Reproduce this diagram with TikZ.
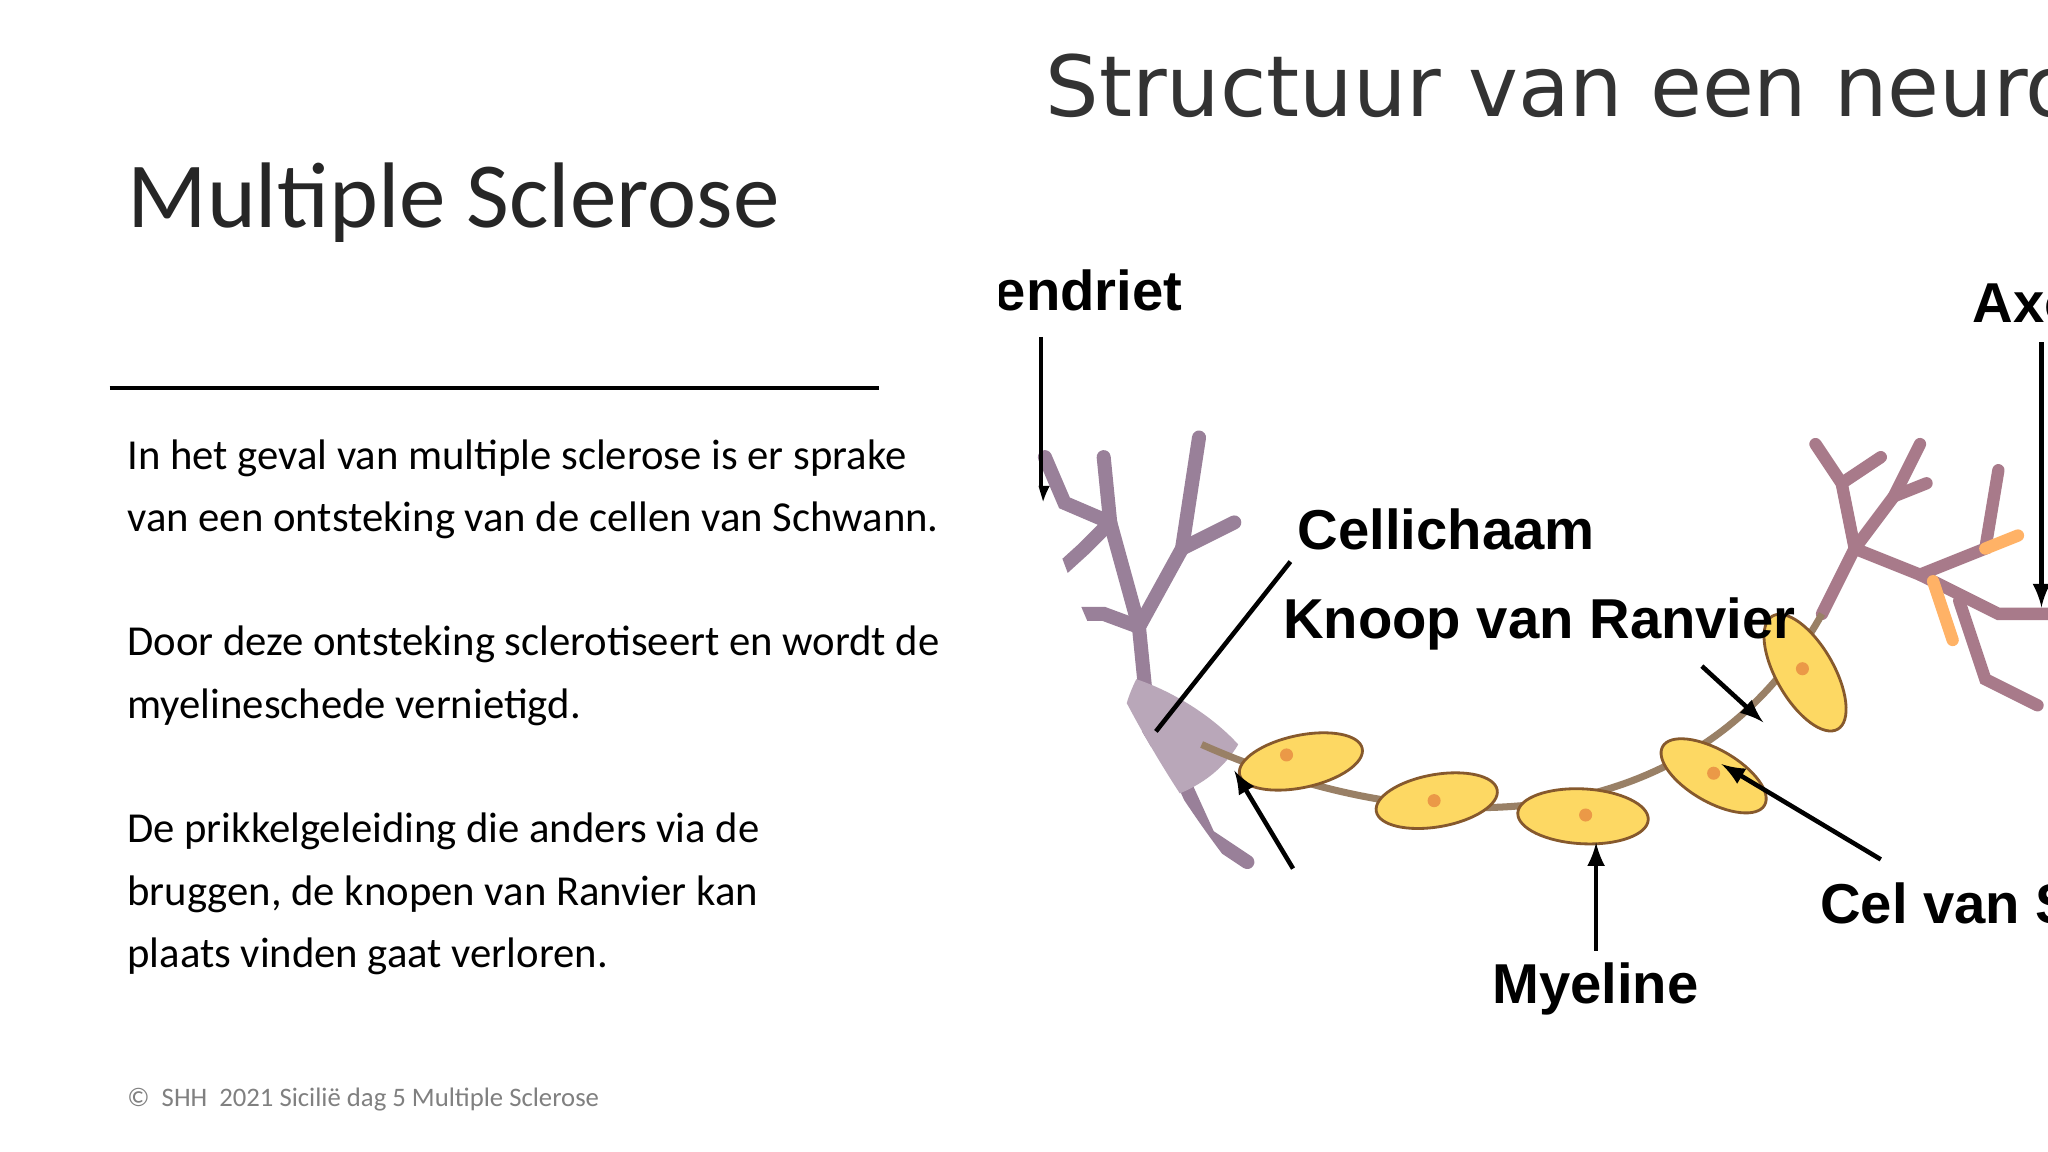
\documentclass[tikz,border=0pt]{standalone}
\usepackage{fontspec}
\setmainfont{Carlito}
\newfontfamily\lab{Liberation Sans}
\newfontfamily\labl{DejaVu Sans}
\begin{document}
\begin{tikzpicture}[x=0.01306cm,y=-0.01306cm,
  body/.style={anchor=north west,font=\fontsize{12.15pt}{17.8pt}\selectfont,align=left,inner sep=0},
  lbl/.style={anchor=west,font=\lab\bfseries\fontsize{16pt}{18pt}\selectfont,inner sep=0},
  ptr/.style={line width=1.3pt,-latex},
  sheath/.style={fill=yellow!55!orange!60,draw=brown!70!black,line width=0.8pt},
  dend/.style={draw=violet!25!gray!80,line width=4pt,line cap=round},
  term/.style={draw=purple!30!gray!80,line width=3.5pt,line cap=round}]
\useasboundingbox (0,0) rectangle (1568,882);
\fill[white] (0,0) rectangle (1568,882);
\node[anchor=west,inner sep=0,font=\fontsize{26.5pt}{30pt}\selectfont,text=black!85] (title) at (97,155) {Multiple Sclerose};
\draw[line width=1.3pt] (84,297) coordinate (r1) -- (673,297) coordinate (r2);
\node[body] (p1) at (97,336) {In het geval van multiple sclerose is er sprake\\van een ontsteking van de cellen van Schwann.};
\node[body] (p2) at (97,479) {Door deze ontsteking sclerotiseert en wordt de\\myelineschede vernietigd.};
\node[body] (p3) at (97,622) {De prikkelgeleiding die anders via de\\bruggen, de knopen van Ranvier kan\\plaats vinden gaat verloren.};
\node[anchor=west,inner sep=0,text=gray,font=\fontsize{7.6pt}{9pt}\selectfont] (foot) at (97,842) {\copyright\ \ SHH\ \ 2021 Sicilië dag 5 Multiple Sclerose};
\begin{scope}
\clip (765,0) -- (1568,0) -- (1568,882) -- (1000,882) -- (950,672) .. controls (860,560) and (800,420) .. (778,300) -- (765,300) -- cycle;
\node[anchor=west,inner sep=0,text=black!80,font=\labl\fontsize{24pt}{28pt}\selectfont] (head) at (800,66) {Structuur van een neuron};
% dendrites
\draw[dend] (880,560) -- (872,480) -- (850,400) -- (845,350);
\draw[dend] (872,480) -- (905,420) -- (918,335);
\draw[dend] (905,420) -- (945,400);
\draw[dend] (850,400) -- (815,385) -- (800,350);
\draw[dend] (850,400) -- (830,420) -- (808,440);
\draw[dend] (872,480) -- (845,470) -- (820,470);
\draw[dend] (880,560) -- (860,615) -- (840,650);
\draw[dend] (900,585) -- (925,640) -- (955,660);
\fill[violet!25!gray!55] (870,520) .. controls (900,530) and (930,550) .. (948,570) .. controls (930,600) and (900,610) .. (880,615) .. controls (860,590) and (850,560) .. (870,520) -- cycle;
% axon terminal
\draw[term] (1395,470) -- (1420,420) -- (1410,370) -- (1390,340);
\draw[term] (1420,420) -- (1450,380) -- (1470,340);
\draw[term] (1410,370) -- (1440,350);
\draw[term] (1450,380) -- (1475,370);
\draw[term] (1420,420) -- (1470,440) -- (1520,420) -- (1530,360);
\draw[term] (1470,440) -- (1530,470) -- (1568,470);
\draw[term] (1500,460) -- (1520,520) -- (1560,540);
\draw[term,orange!60] (1480,445) -- (1495,490);
\draw[term,orange!60] (1520,420) -- (1545,410);
% axon and sheaths
\draw[line width=2pt,brown!40!gray] (920,570) .. controls (1100,650) and (1300,640) .. (1395,470);
\draw[sheath,rotate around={12:(996,583)}] (996,583) ellipse (48 and 20);
\draw[sheath,rotate around={10:(1100,613)}] (1100,613) ellipse (47 and 20);
\draw[sheath,rotate around={-3:(1212,625)}] (1212,625) ellipse (50 and 21);
\draw[sheath,rotate around={-30:(1312,594)}] (1312,594) ellipse (45 and 20);
\draw[sheath,rotate around={-60:(1382,515)}] (1382,515) ellipse (50 and 22);
\foreach \p in {(985,578),(1098,613),(1214,624),(1312,592),(1380,512)} \fill[orange!60!brown!80] \p circle (5);
% labels
\node[lbl] (dn) at (730,222) {Dendriet};
\node[lbl] (ax) at (1510,232) {Axon};
\node[lbl] (cl) at (993,405) {Cellichaam};
\node[lbl] (kr) at (982,478) {Knoop van Ranvier};
\node[lbl] (cs) at (1393,692) {Cel van Schwann};
\node[lbl] (my) at (1142,757) {Myeline};
\coordinate (a1) at (797,258); \coordinate (a2) at (797,390);
\draw[ptr] (a1) -- (a2);
\coordinate (b1) at (1563,262); \coordinate (b2) at (1563,465);
\draw[ptr] (b1) -- (b2);
\coordinate (c1) at (988,430); \coordinate (c2) at (885,560);
\draw[line width=1.3pt] (c1) -- (c2);
\coordinate (d1) at (1303,510); \coordinate (d2) at (1350,553);
\draw[ptr] (d1) -- (d2);
\coordinate (e1) at (1440,658); \coordinate (e2) at (1318,585);
\draw[ptr] (e1) -- (e2);
\coordinate (f1) at (1222,728); \coordinate (f2) at (1222,645);
\draw[ptr] (f1) -- (f2);
\coordinate (g1) at (990,665); \coordinate (g2) at (945,590);
\draw[ptr] (g1) -- (g2);
\end{scope}
\end{tikzpicture}
\end{document}
